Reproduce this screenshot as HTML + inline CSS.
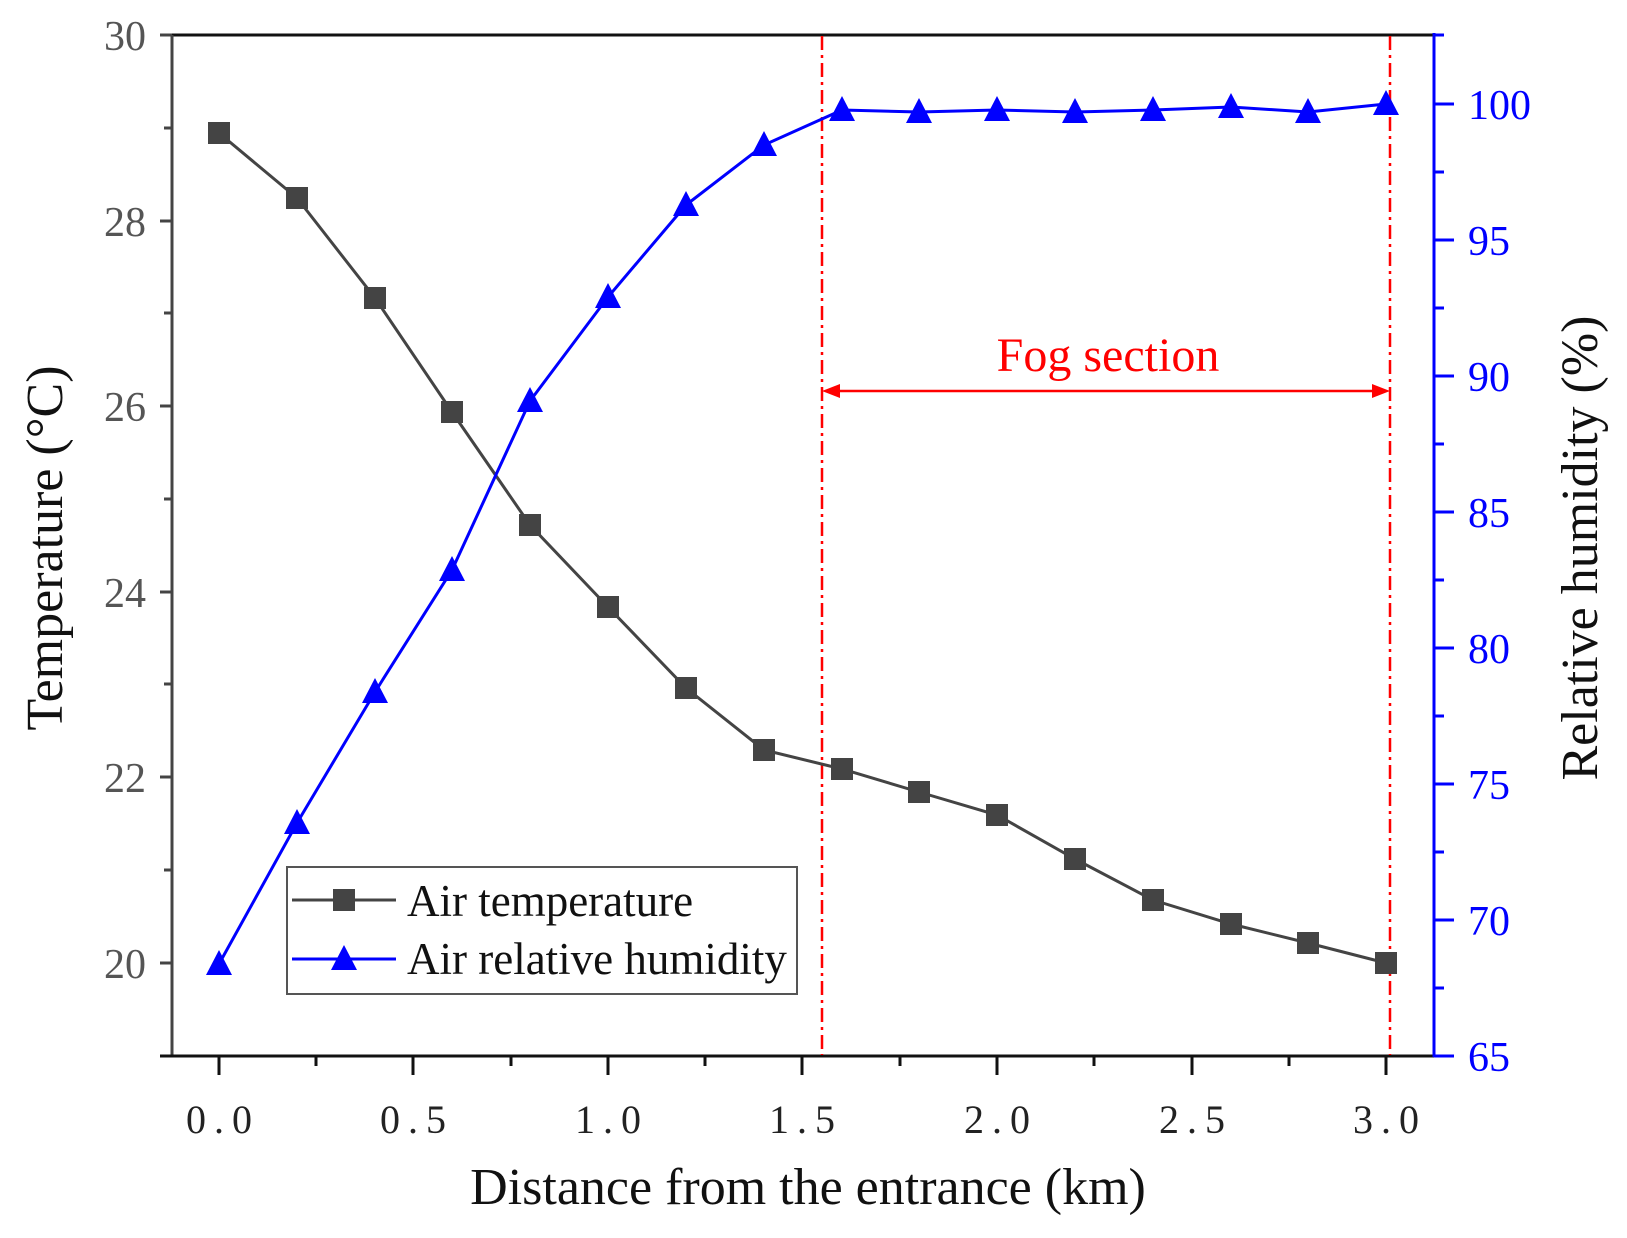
<!DOCTYPE html>
<html><head><meta charset="utf-8"><style>
html,body{margin:0;padding:0;background:#fff;}
svg{display:block;}
</style></head><body>
<svg width="1627" height="1238" viewBox="0 0 1627 1238" xmlns="http://www.w3.org/2000/svg" font-family="Liberation Serif, serif">
<rect width="1627" height="1238" fill="#fff"/>
<line x1="170" y1="35" x2="1434" y2="35" stroke="#111" stroke-width="3"/>
<line x1="172" y1="35" x2="172" y2="1057" stroke="#444" stroke-width="3"/>
<line x1="160" y1="1056" x2="1434" y2="1056" stroke="#111" stroke-width="3"/>
<line x1="1434" y1="33" x2="1434" y2="1057" stroke="#00f" stroke-width="3"/>
<g stroke="#444" stroke-width="3">
<line x1="160" y1="35" x2="172" y2="35"/><line x1="164" y1="128" x2="172" y2="128"/>
<line x1="160" y1="221" x2="172" y2="221"/><line x1="164" y1="313" x2="172" y2="313"/>
<line x1="160" y1="406" x2="172" y2="406"/><line x1="164" y1="499" x2="172" y2="499"/>
<line x1="160" y1="592" x2="172" y2="592"/><line x1="164" y1="684" x2="172" y2="684"/>
<line x1="160" y1="777" x2="172" y2="777"/><line x1="164" y1="870" x2="172" y2="870"/>
<line x1="160" y1="963" x2="172" y2="963"/>
</g>
<g fill="#555" font-size="42" text-anchor="end">
<text x="146" y="50">30</text><text x="146" y="236">28</text><text x="146" y="421">26</text>
<text x="146" y="607">24</text><text x="146" y="792">22</text><text x="146" y="978">20</text>
</g>
<g stroke="#111" stroke-width="3">
<line x1="219" y1="1056" x2="219" y2="1075"/><line x1="316" y1="1056" x2="316" y2="1066"/>
<line x1="413" y1="1056" x2="413" y2="1075"/><line x1="511" y1="1056" x2="511" y2="1066"/>
<line x1="608" y1="1056" x2="608" y2="1075"/><line x1="705" y1="1056" x2="705" y2="1066"/>
<line x1="802" y1="1056" x2="802" y2="1075"/><line x1="900" y1="1056" x2="900" y2="1066"/>
<line x1="997" y1="1056" x2="997" y2="1075"/><line x1="1094" y1="1056" x2="1094" y2="1066"/>
<line x1="1192" y1="1056" x2="1192" y2="1075"/><line x1="1289" y1="1056" x2="1289" y2="1066"/>
<line x1="1386" y1="1056" x2="1386" y2="1075"/>
</g>
<g fill="#222" font-size="40" text-anchor="middle" letter-spacing="8">
<text x="223" y="1133">0.0</text><text x="417" y="1133">0.5</text><text x="612" y="1133">1.0</text>
<text x="806" y="1133">1.5</text><text x="1001" y="1133">2.0</text><text x="1196" y="1133">2.5</text>
<text x="1390" y="1133">3.0</text>
</g>
<g stroke="#00f" stroke-width="3">
<line x1="1434" y1="35" x2="1444" y2="35"/>
<line x1="1434" y1="104" x2="1454" y2="104"/><line x1="1434" y1="172" x2="1444" y2="172"/>
<line x1="1434" y1="240" x2="1454" y2="240"/><line x1="1434" y1="308" x2="1444" y2="308"/>
<line x1="1434" y1="376" x2="1454" y2="376"/><line x1="1434" y1="444" x2="1444" y2="444"/>
<line x1="1434" y1="512" x2="1454" y2="512"/><line x1="1434" y1="580" x2="1444" y2="580"/>
<line x1="1434" y1="648" x2="1454" y2="648"/><line x1="1434" y1="716" x2="1444" y2="716"/>
<line x1="1434" y1="784" x2="1454" y2="784"/><line x1="1434" y1="852" x2="1444" y2="852"/>
<line x1="1434" y1="920" x2="1454" y2="920"/><line x1="1434" y1="988" x2="1444" y2="988"/>
<line x1="1434" y1="1056" x2="1454" y2="1056"/>
</g>
<g fill="#00f" font-size="42">
<text x="1468" y="119">100</text><text x="1468" y="255">95</text><text x="1468" y="391">90</text>
<text x="1468" y="527">85</text><text x="1468" y="663">80</text><text x="1468" y="799">75</text>
<text x="1468" y="935">70</text><text x="1468" y="1071">65</text>
</g>
<text x="808" y="1204" font-size="52" text-anchor="middle" fill="#111">Distance from the entrance (km)</text>
<text transform="translate(62,548) rotate(-90)" font-size="52" text-anchor="middle" fill="#111">Temperature (°C)</text>
<text transform="translate(1597,548) rotate(-90)" font-size="52" text-anchor="middle" fill="#111">Relative humidity (%)</text>
<g stroke="#f00" stroke-width="2.5" stroke-dasharray="14,5,3,5">
<line x1="822" y1="36" x2="822" y2="1055"/><line x1="1390" y1="36" x2="1390" y2="1055"/>
</g>
<line x1="835" y1="391" x2="1374" y2="391" stroke="#f00" stroke-width="2.5"/>
<polygon points="822,391 840,384 840,398" fill="#f00"/>
<polygon points="1390,391 1372,384 1372,398" fill="#f00"/>
<text x="1108" y="371" font-size="48" text-anchor="middle" fill="#f00">Fog section</text>
<polyline fill="none" stroke="#444" stroke-width="3" points="219,133 297,198 375,298 452,412 530,525 608,607 686,688 764,750 842,769 919,792 997,815 1075,859 1153,900 1231,924 1308,943 1386,963"/>
<g fill="#444">
<rect x="208" y="122" width="22" height="22"/><rect x="286" y="187" width="22" height="22"/>
<rect x="364" y="287" width="22" height="22"/><rect x="441" y="401" width="22" height="22"/>
<rect x="519" y="514" width="22" height="22"/><rect x="597" y="596" width="22" height="22"/>
<rect x="675" y="677" width="22" height="22"/><rect x="753" y="739" width="22" height="22"/>
<rect x="831" y="758" width="22" height="22"/><rect x="908" y="781" width="22" height="22"/>
<rect x="986" y="804" width="22" height="22"/><rect x="1064" y="848" width="22" height="22"/>
<rect x="1142" y="889" width="22" height="22"/><rect x="1220" y="913" width="22" height="22"/>
<rect x="1297" y="932" width="22" height="22"/><rect x="1375" y="952" width="22" height="22"/>
</g>
<polyline fill="none" stroke="#00f" stroke-width="3" points="219,964 297,823 375,692 452,570 530,401 608,297 686,205 764,145 842,110 919,112 997,110 1075,112 1153,110 1231,107 1308,112 1386,104"/>
<g fill="#00f">
<polygon points="219,950 206,975 232,975"/><polygon points="297,809 284,834 310,834"/>
<polygon points="375,678 362,703 388,703"/><polygon points="452,556 439,581 465,581"/>
<polygon points="530,387 517,412 543,412"/><polygon points="608,283 595,308 621,308"/>
<polygon points="686,191 673,216 699,216"/><polygon points="764,131 751,156 777,156"/>
<polygon points="842,96 829,121 855,121"/><polygon points="919,98 906,123 932,123"/>
<polygon points="997,96 984,121 1010,121"/><polygon points="1075,98 1062,123 1088,123"/>
<polygon points="1153,96 1140,121 1166,121"/><polygon points="1231,93 1218,118 1244,118"/>
<polygon points="1308,98 1295,123 1321,123"/><polygon points="1386,90 1373,115 1399,115"/>
</g>
<rect x="287" y="867" width="510" height="127" fill="#fff" stroke="#555" stroke-width="2"/>
<line x1="292" y1="900" x2="396" y2="900" stroke="#444" stroke-width="3"/>
<rect x="333" y="889" width="22" height="22" fill="#444"/>
<line x1="292" y1="959" x2="396" y2="959" stroke="#00f" stroke-width="3"/>
<polygon points="344,945 331,970 357,970" fill="#00f"/>
<text x="407" y="916" font-size="45" fill="#111">Air temperature</text>
<text x="407" y="974" font-size="45" fill="#111">Air relative humidity</text>
</svg>
</body></html>
